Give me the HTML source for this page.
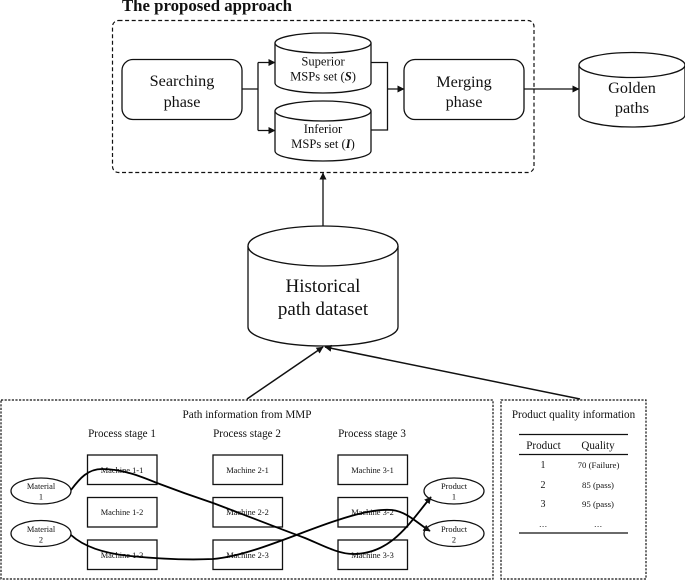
<!DOCTYPE html>
<html><head><meta charset="utf-8">
<style>
html,body{margin:0;padding:0;background:#fff;width:685px;height:580px;overflow:hidden}
svg{display:block;filter:blur(.3px)}
text{font-family:"Liberation Serif",serif;fill:#111;text-anchor:middle}
.b{fill:#fff;stroke:#111;stroke-width:1.3}
.l{fill:none;stroke:#111;stroke-width:1.3}
.d{fill:none;stroke:#111;stroke-width:1.2;stroke-dasharray:4 2.6}
.ds{fill:none;stroke:#111;stroke-width:1.2;stroke-dasharray:2.2 1.4}
.c{fill:none;stroke:#000;stroke-width:1.8}
.m{font-size:8.4px}
.t{font-size:8.8px}
.n{font-size:10px}
.s{font-size:11.1px}
.h{font-size:12.6px}
.g{font-size:16.2px}
</style></head><body>
<svg width="685" height="580" viewBox="0 0 685 580" xmlns="http://www.w3.org/2000/svg">
<defs>
<marker id="a" markerWidth="8" markerHeight="8" refX="6.5" refY="3.5" orient="auto" markerUnits="userSpaceOnUse"><path d="M0 0L7 3.5L0 7z" fill="#111"/></marker>
</defs>
<text x="207" y="11" style="font-size:16.8px;font-weight:bold">The proposed approach</text>
<rect class="d" x="112.5" y="20.5" width="421.5" height="152" rx="6"/>

<rect class="b" x="122" y="59.5" width="120" height="60" rx="11"/>
<text x="182" y="86" class="g">Searching</text>
<text x="182" y="107" class="g">phase</text>

<path class="l" d="M242 89H258M258 62.5V130.5"/>
<path class="l" d="M258 62.5H275" marker-end="url(#a)"/>
<path class="l" d="M258 130.5H275" marker-end="url(#a)"/>
<path class="l" d="M371 62.5H387.5V130H371M387.5 89H404" marker-end="url(#a)"/>

<path class="b" d="M275 43V83C275 88.5 296.5 93 323 93S371 88.5 371 83V43"/>
<ellipse class="b" cx="323" cy="43" rx="48" ry="10"/>
<text x="323" y="65.5" class="h">Superior</text>
<text x="323" y="80.5" class="h">MSPs set (<tspan font-weight="bold" font-style="italic">S</tspan>)</text>

<path class="b" d="M275 111V151C275 156.5 296.5 161 323 161S371 156.5 371 151V111"/>
<ellipse class="b" cx="323" cy="111" rx="48" ry="10"/>
<text x="323" y="133" class="h">Inferior</text>
<text x="323" y="148" class="h">MSPs set (<tspan font-weight="bold" font-style="italic">I</tspan>)</text>

<rect class="b" x="404" y="59.5" width="120" height="60" rx="11"/>
<text x="464" y="87" class="g">Merging</text>
<text x="464" y="107" class="g">phase</text>

<path class="l" d="M524 89H579" marker-end="url(#a)"/>

<path class="b" d="M579 65V115C579 121.5 603 127 632 127S685 121.5 685 115V65"/>
<ellipse class="b" cx="632" cy="65" rx="53" ry="12.5"/>
<text x="632" y="93" class="g">Golden</text>
<text x="632" y="113" class="g">paths</text>

<path class="l" d="M323 226V173" marker-end="url(#a)"/>
<path class="b" d="M248 246V327C248 337.5 281.5 346 323 346S398 337.5 398 327V246"/>
<ellipse class="b" cx="323" cy="246" rx="75" ry="20"/>
<text x="323" y="292" style="font-size:19px">Historical</text>
<text x="323" y="315" style="font-size:19px">path dataset</text>

<path class="l" d="M247 399L323 347" marker-end="url(#a)" style="stroke-width:1.5"/>
<path class="l" d="M580 399L325 347" marker-end="url(#a)" style="stroke-width:1.5"/>

<rect class="ds" x="1" y="400" width="492" height="179"/>
<rect class="ds" x="501" y="400" width="145" height="179"/>

<text x="247" y="418" class="s" style="font-size:11.2px">Path information from MMP</text>
<text x="122" y="437" class="s">Process stage 1</text>
<text x="247" y="437" class="s">Process stage 2</text>
<text x="372" y="437" class="s">Process stage 3</text>

<rect class="b" x="87.5" y="455" width="69.5" height="29.5"/>
<rect class="b" x="87.5" y="497.5" width="69.5" height="29.5"/>
<rect class="b" x="87.5" y="540" width="69.5" height="29.5"/>
<rect class="b" x="213" y="455" width="69.5" height="29.5"/>
<rect class="b" x="213" y="497.5" width="69.5" height="29.5"/>
<rect class="b" x="213" y="540" width="69.5" height="29.5"/>
<rect class="b" x="338" y="455" width="69.5" height="29.5"/>
<rect class="b" x="338" y="497.5" width="69.5" height="29.5"/>
<rect class="b" x="338" y="540" width="69.5" height="29.5"/>

<text class="m" x="122" y="473">Machine 1-1</text>
<text class="m" x="122" y="515">Machine 1-2</text>
<text class="m" x="122" y="558">Machine 1-3</text>
<text class="m" x="247.5" y="473">Machine 2-1</text>
<text class="m" x="247.5" y="515">Machine 2-2</text>
<text class="m" x="247.5" y="558">Machine 2-3</text>
<text class="m" x="372.5" y="473">Machine 3-1</text>
<text class="m" x="372.5" y="515">Machine 3-2</text>
<text class="m" x="372.5" y="558">Machine 3-3</text>

<ellipse class="b" cx="41" cy="491" rx="30" ry="13"/>
<ellipse class="b" cx="41" cy="533.5" rx="30" ry="13"/>
<ellipse class="b" cx="454" cy="491" rx="30" ry="13"/>
<ellipse class="b" cx="454" cy="533.5" rx="30" ry="13"/>
<text class="m" x="41" y="489">Material</text><text class="m" x="41" y="499.5">1</text>
<text class="m" x="41" y="532">Material</text><text class="m" x="41" y="542.5">2</text>
<text class="m" x="454" y="489">Product</text><text class="m" x="454" y="499.5">1</text>
<text class="m" x="454" y="532">Product</text><text class="m" x="454" y="542.5">2</text>

<path class="c" marker-end="url(#a)" d="M71 490C80 478 88 469 102 469C122 469 140 476 157 483C178 491 195 497 213 503C245 515 275 527 305 538C322 545 338 554 353 554C392 554 410 522 431 497"/>
<path class="c" marker-end="url(#a)" d="M71 535C82 545 100 553 130 556C160 559 190 560 213 559C250 556 300 532 338 520C362 512 380 509 392 510C408 512 418 524 430 531"/>

<text x="573.5" y="418" class="s">Product quality information</text>
<path class="l" d="M519 434.5H628M519 454.5H628M519 533H628"/>
<text x="543.5" y="449" class="s">Product</text>
<text x="598" y="449" class="s">Quality</text>
<text class="n" x="543" y="468">1</text><text class="t" x="598.5" y="468">70 (Failure)</text>
<text class="n" x="543" y="488">2</text><text class="t" x="598" y="488">85 (pass)</text>
<text class="n" x="543" y="507">3</text><text class="t" x="598" y="507">95 (pass)</text>
<text class="m" x="543" y="527">…</text><text class="m" x="598" y="527">…</text>
</svg>
</body></html>
